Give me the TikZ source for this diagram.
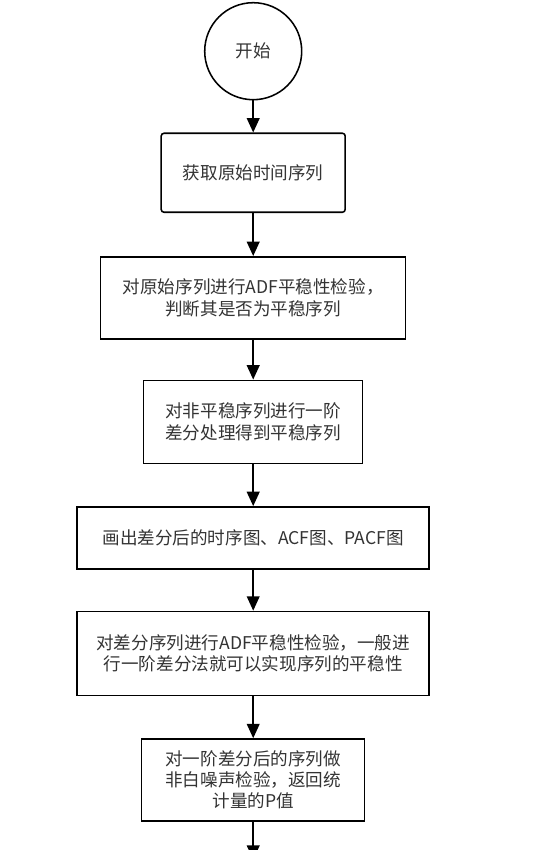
\documentclass[tikz,border=0pt]{standalone}
\usepackage{fontspec}
\setmainfont{Noto Sans CJK SC}
\usetikzlibrary{positioning,arrows.meta}

\tikzset{
    stepbox/.style={rectangle, draw, line width=1.1pt, align=center, inner sep=0pt,
        font=\fontsize{12.5}{15}\selectfont, text=black!80},
    flow/.style={->, line width=1.1pt}
}

\begin{document}
\begin{tikzpicture}[node distance=1cm, >={Triangle[length=3.6mm,width=3.2mm]}]
    \useasboundingbox (0,0) rectangle (13.95,-21.25);
    \node[circle, draw, line width=1.1pt, minimum size=2.425cm, inner sep=0pt,
        font=\fontsize{12.5}{15}\selectfont, text=black!80] (start) at (6.33,-1.28) {开始};
    \node[stepbox, rounded corners=2pt, minimum width=4.6cm, minimum height=1.975cm] (get) [below=0.8cm of start] {获取原始时间序列};
    \node[stepbox, minimum width=7.625cm, minimum height=2.05cm] (adf) [below=1.075cm of get] {对原始序列进行ADF平稳性检验，\\判断其是否为平稳序列};
    \node[stepbox, minimum width=5.475cm, minimum height=2.075cm] (diff) [below=1cm of adf] {对非平稳序列进行一阶\\差分处理得到平稳序列};
    \node[stepbox, minimum width=8.8cm, minimum height=1.55cm] (plot) [below=1.05cm of diff] {画出差分后的时序图、ACF图、PACF图};
    \node[stepbox, minimum width=8.8cm, minimum height=2.1cm] (adf2) [below=1.025cm of plot] {对差分序列进行ADF平稳性检验，一般进\\行一阶差分法就可以实现序列的平稳性};
    \node[stepbox, minimum width=5.575cm, minimum height=2.05cm] (noise) [below=1.05cm of adf2] {对一阶差分后的序列做\\非白噪声检验，返回统\\计量的P值};
    \coordinate (end) at ([yshift=-0.95cm]noise.south);

    \draw[flow] (start) -- (get);
    \draw[flow] (get) -- (adf);
    \draw[flow] (adf) -- (diff);
    \draw[flow] (diff) -- (plot);
    \draw[flow] (plot) -- (adf2);
    \draw[flow] (adf2) -- (noise);
    \draw[flow] (noise) -- (end);
\end{tikzpicture}
\end{document}
